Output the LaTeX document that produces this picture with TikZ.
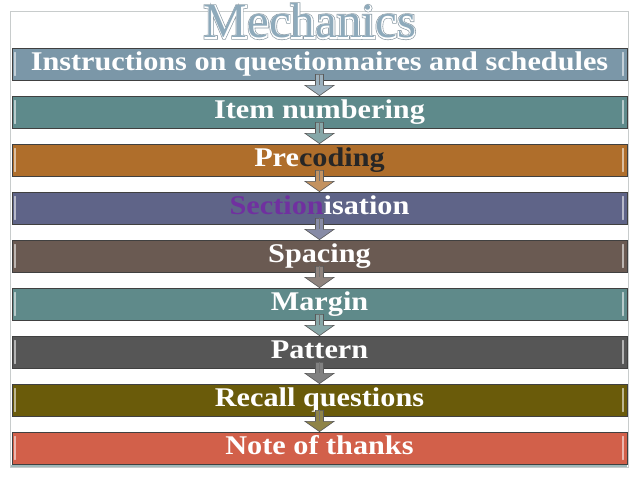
\documentclass[tikz,border=0pt]{standalone}
\usepackage{fontspec}
\setmainfont{Liberation Serif}
\newfontfamily\barfont[FakeStretch=1.12]{Liberation Serif}
\newfontfamily\titleouter[FakeBold=6.5]{Liberation Serif}
\newfontfamily\titleinner[FakeBold=3.8]{Liberation Serif}
\usetikzlibrary{calc}
\definecolor{cA}{HTML}{7B97A8}
\definecolor{cB}{HTML}{5E8A8B}
\definecolor{cC}{HTML}{AF6E2B}
\definecolor{cD}{HTML}{5F6488}
\definecolor{cE}{HTML}{6A5A52}
\definecolor{cF}{HTML}{5F8A8A}
\definecolor{cG}{HTML}{565656}
\definecolor{cH}{HTML}{6A5B0A}
\definecolor{cI}{HTML}{D2604A}
\definecolor{titlefill}{HTML}{8EAABB}
\definecolor{titleedge}{HTML}{8A9AA4}
\definecolor{framecol}{HTML}{C8CCCC}
\definecolor{purpletxt}{HTML}{7030A0}
\definecolor{darktxt}{HTML}{262626}
\tikzset{
  barbox/.style={draw=black!75, line width=0.8pt, minimum width=615pt, minimum height=32pt,
     inner sep=0pt, text height=20pt, text depth=6pt, text=white,
     font=\barfont\bfseries\fontsize{27}{27}\selectfont},
  titletext/.style={anchor=base, inner sep=0pt},
  arrowline/.style={draw=black!65, line width=0.6pt, line join=miter},
  edgeline/.style={line width=1.6pt, line cap=round},
}
\newcommand\flowarr[3]{%
  \draw[arrowline, fill=#3!75!white]
    ([shift={(-4,-6)}]#1.south) -- ([shift={(4,-6)}]#1.south) --
    ([shift={(4,5)}]#1.south) -- ([shift={(14.5,5)}]#1.south) --
    (#2.north) -- ([shift={(-14.5,5)}]#1.south) --
    ([shift={(-4,5)}]#1.south) -- cycle;
  \draw[black!55, line width=0.5pt] ([shift={(0,-6)}]#1.south) -- ([shift={(0,5)}]#1.south);
}
\newcommand\baredges[2]{%
  \draw[edgeline, #2!45!white] ([shift={(3.5,5)}]#1.north west) -- ([shift={(3.5,-5)}]#1.south west);
  \draw[edgeline, #2!45!white] ([shift={(-4.5,5)}]#1.north east) -- ([shift={(-4.5,-5)}]#1.south east);
}
\begin{document}
\begin{tikzpicture}[x=1pt, y=-1pt]
\useasboundingbox[fill=white] (0,0) rectangle (638,478);
% slide frame
\draw[framecol, line width=0.8pt] (10,11) rectangle (628,467);
\draw[color=cF!60!white, line width=2pt] (11,466) -- (627,466);
% title (engraved outline look)
\node[titletext, text=titleedge] (titleA) at (310,38)
  {\titleouter\fontsize{49}{49}\selectfont Mechanics};
\node[titletext, text=white] (titleB) at (310,38)
  {\titleinner\fontsize{49}{49}\selectfont Mechanics};
\node[titletext, text=titlefill] (titleC) at (310,38)
  {\fontsize{49}{49}\selectfont Mechanics};
% bars
\node[barbox, fill=cA] (b1) at (319.5,64)  {Instructions on questionnaires and schedules};
\node[barbox, fill=cB] (b2) at (319.5,112) {Item numbering};
\node[barbox, fill=cC] (b3) at (319.5,160) {Pre\textcolor{darktxt}{coding}};
\node[barbox, fill=cD] (b4) at (319.5,208) {\textcolor{purpletxt}{Section}isation};
\node[barbox, fill=cE] (b5) at (319.5,256) {Spacing};
\node[barbox, fill=cF] (b6) at (319.5,304) {Margin};
\node[barbox, fill=cG] (b7) at (319.5,352) {Pattern};
\node[barbox, fill=cH] (b8) at (319.5,400) {Recall questions};
\node[barbox, fill=cI] (b9) at (319.5,448) {Note of thanks};
\baredges{b1}{cA}\baredges{b2}{cB}\baredges{b3}{cC}
\baredges{b4}{cD}\baredges{b5}{cE}\baredges{b6}{cF}
\baredges{b7}{cG}\baredges{b8}{cH}\baredges{b9}{cI}
% arrows
\flowarr{b1}{b2}{cA}
\flowarr{b2}{b3}{cB}
\flowarr{b3}{b4}{cC}
\flowarr{b4}{b5}{cD}
\flowarr{b5}{b6}{cE}
\flowarr{b6}{b7}{cF}
\flowarr{b7}{b8}{cG}
\flowarr{b8}{b9}{cH}
\end{tikzpicture}
\end{document}
